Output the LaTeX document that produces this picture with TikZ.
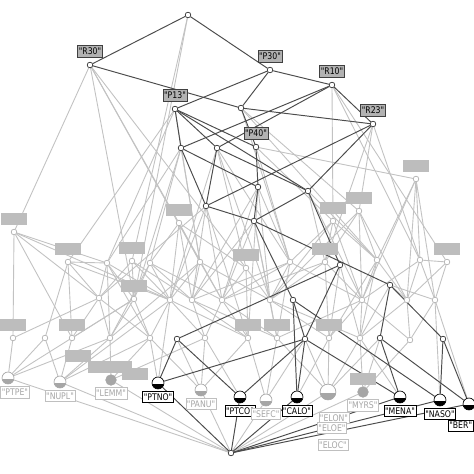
\documentclass[tikz,border=0pt]{standalone}
\usepackage{fontspec}
\newfontfamily\lblfont[FakeStretch=0.85]{DejaVu Sans}
\newcommand\lblsize{\lblfont\fontsize{5.2pt}{6pt}\selectfont}
\usetikzlibrary{positioning}
\pgfdeclarelayer{bg}
\pgfdeclarelayer{edges}
\pgfsetlayers{bg,edges,main}

\tikzset{
  dpt/.style={circle, draw=black!80, fill=white, inner sep=0pt, minimum size=3.2pt},
  gpt/.style={circle, draw=black!30, fill=white, inner sep=0pt, minimum size=3.2pt},
  dattr/.style={draw=black!75, fill=black!30, font=\lblsize, inner xsep=0.6pt, inner ysep=0pt, minimum height=6.8pt},
  gattr/.style={fill=black!26, minimum width=14.5pt, minimum height=6.8pt, inner sep=0pt},
  dobj/.style={draw=black, fill=white, font=\lblsize, inner xsep=0.6pt, inner ysep=0pt, minimum height=6.6pt},
  gobj/.style={draw=black!25, fill=white, text=black!35, font=\lblsize, inner xsep=0.6pt, inner ysep=0pt, minimum height=6.6pt},
  dball/.style={circle, draw=black, fill=white, inner sep=0pt, minimum size=6.8pt,
    path picture={\fill[black] ([yshift=-0.4pt]path picture bounding box.west) rectangle (path picture bounding box.south east);}},
  gball/.style={circle, draw=black!35, fill=white, inner sep=0pt, minimum size=6.8pt,
    path picture={\fill[black!35] ([yshift=-0.4pt]path picture bounding box.west) rectangle (path picture bounding box.south east);}},
  fball/.style={circle, draw=black!35, fill=black!35, inner sep=0pt, minimum size=6pt},
  dline/.style={black!70, line width=0.55pt},
  gline/.style={black!24, line width=0.5pt},
}

\begin{document}
\begin{tikzpicture}[x=0.02cm, y=-0.02cm]
\useasboundingbox (0,0) rectangle (474,474);
\begin{pgfonlayer}{bg}
\fill[white] (0,0) rectangle (474,474);
\end{pgfonlayer}

% highlighted concepts
\foreach \n/\x/\y in {T/188/15, R30/90/65, P30/270/70, R10/332/85, P13/175/109, a6/241/108,
    R23/373/124, a1/181/148, a2/217/148, P40/256/147, a3/258/187, a5/308/191, a4/206/206,
    a7/254/221, a8/340/265, a9/390/285, c1/293/300, b1/177/339, b2/305/339, b3/380/338,
    b4/443/339, B/231/453}
  \node[dpt] (\n) at (\x,\y) {};
\foreach \n in {R30, P30, R10, P13, R23, P40}
  \node[dattr, above=2.5pt of \n] (\n l) {"\n"};

% greyed concepts with attribute labels
\foreach \n/\x/\y in {g1/14/232, g2/68/262, g3/132/261, g4/134/299, g5/179/223, g6/246/268,
    g7/416/179, g8/359/211, g9/333/221, g10/325/262, g11/447/262, g12/13/338, g13/72/338,
    g14/248/338, g15/277/338, g16/329/338}
  {\node[gpt] (\n) at (\x,\y) {};
   \node[gattr, above=1.8pt of \n] (\n l) {};}

% greyed concepts without labels
\foreach \n/\x/\y in {h1/107/263, h2/150/263, h3/99/298, h4/170/300, h5/192/300, h6/222/300,
    h7/270/300, h8/377/260, h9/420/260, h10/407/300, h11/435/300, h12/362/300, h13/200/262,
    h14/290/262, h15/45/338, h16/110/338, h17/150/338, h18/205/338, h19/360/338, h20/410/340}
  \node[gpt] (\n) at (\x,\y) {};

% objects
\foreach \n/\x/\y in {PTNO/158/383, PTCO/240/397, CALO/297/397, MENA/400/397, NASO/440/400}
  {\node[dball] (\n) at (\x,\y) {};
   \node[dobj, below=0.8pt of \n] (\n l) {"\n"};}
\node[dball] (BER) at (469,404) {};
\node[dobj, anchor=north east] (BER l) at (473.5,419.5) {"BER"};
\foreach \n/\x/\y in {NUPL/60/382, PANU/201/390, SEFC/266/400}
  {\node[gball] (\n) at (\x,\y) {};
   \node[gobj, below=0.8pt of \n] (\n l) {"\n"};}
\node[gball] (PTPE) at (8,378) {};
\node[gobj, anchor=north west] (PTPE l) at (0.5,386) {"PTPE"};
\node[fball] (LEMM) at (111,380) {};
\node[gobj, below=0.8pt of LEMM] (LEMM l) {"LEMM"};
\node[gattr, minimum width=25pt] (lemmA) at (110,367) {};
\node[gattr] (lemmB) at (135,374) {};
\node[gattr] (nuplA) at (78,356) {};
\node[fball] (MYRS) at (363,392) {};
\node[gobj, below=0.8pt of MYRS] (MYRS l) {"MYRS"};
\node[gattr, above=0.4pt of MYRS] (MYRS a) {};
\node[gball, minimum size=9pt] (ELON) at (328,392) {};
\node[gobj] (ELON l) at (334,418) {"ELON"};
\node[gobj] (ELOE l) at (332,428) {"ELOE"};
\node[gobj] (ELOC l) at (333,445) {"ELOC"};

\begin{pgfonlayer}{edges}
\foreach \a/\b in {T/g3, R30/g1, R30/g4, R30/g5, R30/g6, P13/g2, P13/h13, a1/h1, a1/h2, a2/h14,
    a2/g6, a6/g8, P40/g7, P40/h14, R10/g9, R10/g11, R23/g10, R23/h9, a3/h7, a3/h6, a4/h4,
    a4/h5, a5/h12, a5/h8, a7/h6, a7/g15, a8/g16, a9/h10, a9/h11,
    g1/g12, g1/h1, g1/h3, g1/h4, g1/g13, g2/h3, g2/g13, g2/h15, g2/h1, g3/h3, g3/g4, g3/h4,
    g5/h2, g5/h13, g5/h5, g5/g6, g5/h4, h1/h3, h1/g4, h1/h16, h2/h4, h2/h5, h2/g4, h2/h16,
    h13/h5, h13/h6, h13/h7, h13/h16, g6/h6, g6/h7, g6/g14, h14/h7, h14/g15, h14/h6, h14/h12,
    g9/h14, g9/g10, g9/h8, g9/h12, g8/h8, g8/g10, g8/h12, g8/h10, g7/h9, g7/h12, g7/h10,
    g7/h8, g10/h7, g10/h12, g10/g16, h8/h10, h8/h12, h8/h19, h9/h11, h9/h10, g11/h11,
    g11/h10, g11/h9, h3/g12, h3/g13, h3/h16, g4/h16, g4/h17, g4/g13, h4/h17, h4/h18,
    h5/h18, h5/g14, h6/g14, h6/g15, h6/h18, h7/g15, h7/g16, h12/g16, h12/h19, h10/h19,
    h10/h20, h11/h20, a1/g4, a2/h7, a4/h3, a4/g14, a3/h14, a5/g10, P40/g9, a6/h8, R23/g8,
    R10/h9, R30/h13, T/g4,
    g5/h6, h13/h4, h2/h6, h1/h4, g3/h5, g2/h4, a4/h6, a3/h5, a3/g14, h14/h5, g9/h7, g8/h7,
    g10/h6, h8/g16, h12/g15, g7/h11, h9/h12, a7/h5, a7/h7, a6/h14, h1/h17, h3/h17, h4/g14,
    h5/g15, h7/h19, h12/h20, a8/h19, a9/h19, a1/h13, a2/h4, P13/h1,
    g12/PTPE, h15/PTPE, h15/NUPL, g13/NUPL, h16/NUPL, h16/LEMM, h17/LEMM, h17/PANU,
    h18/PANU, g14/PANU, g14/SEFC, g15/SEFC, g15/ELON, g16/ELON, h19/ELON, h19/MYRS,
    h20/MYRS, PTPE/h16, PTPE/g4, NUPL/h17, NUPL/h4, LEMM/h18, b1/PANU, b2/SEFC, b2/ELON,
    b3/MYRS, b3/ELON, PTNO/h17, PTNO/h4, PTCO/h18, CALO/g16, MENA/h19, NASO/h11, BER/h11,
    B/PTPE, B/NUPL, B/LEMM, B/PANU, B/SEFC, B/ELON, B/MYRS}
  \draw[gline] (\a) -- (\b);
\foreach \a/\b in {T/R30, T/P30, R30/a6, P30/P13, P30/R10, P30/a6, R10/R23, R10/a2, R10/a1,
    a6/R23, a6/P40, P13/a1, P13/a2, P13/a5, P13/P40, R23/a4, R23/a5, a1/a3, a1/a4, a2/a4,
    a2/a5, P40/a3, a3/a7, a4/a7, a5/a7, a5/a8, a7/a9, a7/c1, a8/b1, a8/b2, a9/b3, a9/b4,
    c1/b2, c1/CALO, c1/NASO, b1/PTNO, b1/PTCO, b2/PTNO, b2/PTCO, b2/CALO, b2/MENA,
    b3/MENA, b3/BER, b4/NASO, b4/BER,
    B/PTNO, B/PTCO, B/CALO, B/MENA, B/NASO, B/BER}
  \draw[dline] (\a) -- (\b);
\end{pgfonlayer}
\end{tikzpicture}
\end{document}
